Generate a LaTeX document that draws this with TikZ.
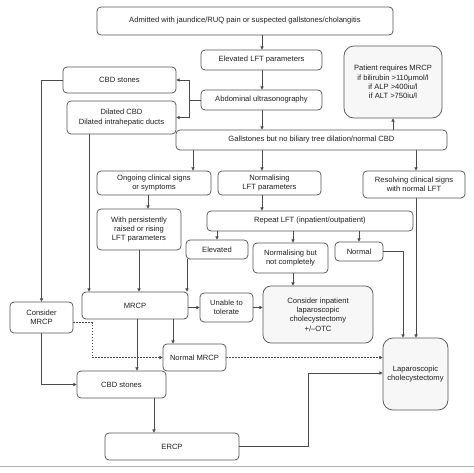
\documentclass[tikz,border=0pt]{standalone}
\usepackage{fontspec}
\setmainfont{Liberation Sans}
\usetikzlibrary{arrows.meta,calc}
\definecolor{lc}{HTML}{4A4A4A}
\definecolor{bc}{HTML}{555555}
\definecolor{fl}{HTML}{F7F7F7}
\begin{document}
\begin{tikzpicture}[x=1pt,y=-1pt,
  box/.style={draw=bc, line width=0.75pt, rounded corners=4pt, inner sep=1pt, align=center,
    font=\fontsize{7.6}{9.2}\selectfont, text=black!88},
  bigbox/.style={box, rounded corners=10pt, fill=fl},
  arr/.style={draw=lc, line width=0.75pt, -{Triangle[length=3.2pt,width=3.2pt]}},
  dotarr/.style={arr, dash pattern=on 1.5pt off 1.5pt}]
\useasboundingbox (0,0) rectangle (474,472);
% nodes
\node[box, minimum width=296pt, minimum height=28pt] (top) at (245,21) {Admitted with jaundice/RUQ pain or suspected gallstones/cholangitis};
\node[box, minimum width=121pt, minimum height=20pt] (elev) at (261.5,60) {Elevated LFT parameters};
\node[box, minimum width=121pt, minimum height=20pt] (abd) at (261.5,100) {Abdominal ultrasonography};
\node[box, minimum width=113pt, minimum height=26pt] (cbd1) at (119.5,80) {CBD stones};
\node[box, minimum width=109pt, minimum height=33pt] (dil) at (121.5,117.5) {Dilated CBD\\Dilated intrahepatic ducts};
\node[box, minimum width=271pt, minimum height=20pt] (gall) at (311.5,140) {Gallstones but no biliary tree dilation/normal CBD};
\node[bigbox, minimum width=98pt, minimum height=72pt] (pat) at (393,82) {Patient requires MRCP\\if bilirubin >110μmol/l\\if ALP >400iu/l\\if ALT >750iu/l};
\node[box, minimum width=114pt, minimum height=24pt] (ong) at (154,183) {Ongoing clinical signs\\or symptoms};
\node[box, minimum width=103pt, minimum height=24pt] (norm) at (269.5,183) {Normalising\\LFT parameters};
\node[box, minimum width=102pt, minimum height=27pt] (res) at (414,184.5) {Resolving clinical signs\\with normal LFT};
\node[box, minimum width=84pt, minimum height=41pt] (pers) at (139,229.5) {With persistently\\raised or rising\\LFT parameters};
\node[box, minimum width=206pt, minimum height=20pt] (rep) at (310,221) {Repeat LFT (inpatient/outpatient)};
\node[box, minimum width=62pt, minimum height=19pt] (elv2) at (217,249.5) {Elevated};
\node[box, minimum width=75pt, minimum height=30pt] (nbnc) at (290.5,258) {Normalising but\\not completely};
\node[box, minimum width=48pt, minimum height=19pt] (nrm) at (359,251.5) {Normal};
\node[box, rounded corners=8pt, fill=fl, minimum width=110pt, minimum height=57pt] (cons) at (318,314.5) {Consider inpatient\\laparoscopic\\cholecystectomy\\+/–OTC};
\node[bigbox, minimum width=65pt, minimum height=72pt] (lap) at (415.5,374) {Laparoscopic\\cholecystectomy};
\node[box, minimum width=106pt, minimum height=27pt] (mrcp) at (135,305.5) {MRCP};
\node[box, minimum width=53pt, minimum height=29pt] (unable) at (226.5,307.5) {Unable to\\tolerate};
\node[box, minimum width=63pt, minimum height=31pt] (conm) at (41.5,317.5) {Consider\\MRCP};
\node[box, minimum width=63pt, minimum height=27pt] (nmrcp) at (194.5,357.5) {Normal MRCP};
\node[box, minimum width=89pt, minimum height=27pt] (cbd2) at (121.5,384.5) {CBD stones};
\node[box, minimum width=134pt, minimum height=27pt] (ercp) at (172,446.5) {ERCP};
% helper x positions
\coordinate (x193) at (193,0);
\coordinate (x148) at (148,0);
\coordinate (x262) at (262,0);
\coordinate (x293) at (293,0);
\coordinate (x403) at (403,0);
\coordinate (x416) at (416,0);
\coordinate (x89) at (89,0);
\coordinate (x187) at (187,0);
\coordinate (x173) at (173,0);
\coordinate (x137) at (137,0);
\coordinate (x92) at (92,0);
\coordinate (x154) at (154,0);
\coordinate (x308) at (308,0);
\coordinate (x189) at (189,0);
% connectors
\draw[arr] (x262 |- top.south) -- (x262 |- elev.north);
\draw[arr] (x262 |- elev.south) -- (x262 |- abd.north);
\draw[arr] (x262 |- abd.south) -- (x262 |- gall.north);
\draw[lc, line width=0.75pt] (abd.west) -- (x189 |- abd.west);
\draw[arr] (x189 |- abd.west) |- (cbd1.east);
\draw[arr] (x189 |- abd.west) |- (dil.east);
\draw[arr] (pat.south |- gall.north) -- (pat.south);
\draw[arr] (x193 |- gall.south) -- (x193 |- ong.north);
\draw[arr] (x262 |- gall.south) -- (x262 |- norm.north);
\draw[arr] (x416 |- gall.south) -- (x416 |- res.north);
\draw[arr] (x148 |- ong.south) -- (x148 |- pers.north);
\draw[arr] (x262 |- norm.south) -- (x262 |- rep.north);
\draw[arr] (elv2.north |- rep.south) -- (elv2.north);
\draw[arr] (x293 |- rep.south) -- (x293 |- nbnc.north);
\draw[arr] (nrm.north |- rep.south) -- (nrm.north);
\draw[arr] (x293 |- nbnc.south) -- (x293 |- cons.north);
\draw[arr] (nrm.east) -| (x403 |- lap.north);
\draw[arr] (x416 |- res.south) -- (x416 |- lap.north);
\draw[arr] (cbd1.west) -| (conm.north);
\draw[arr] (x89 |- dil.south) -- (x89 |- mrcp.north);
\draw[arr] (pers.south) -- (pers.south |- mrcp.north);
\draw[arr] (x187 |- elv2.south) -- (x187 |- mrcp.north);
\draw[arr] (mrcp.east |- unable.west) -- (unable.west);
\draw[arr] (unable.east) -- (unable.east -| cons.west);
\draw[arr] (x173 |- mrcp.south) -- (x173 |- nmrcp.north);
\draw[arr] (x137 |- mrcp.south) -- (x137 |- cbd2.north);
\draw[arr] (conm.south) |- (cbd2.west);
\draw[dotarr] ([yshift=-5pt]conm.east) -| (x92 |- nmrcp.west) -- (nmrcp.west);
\draw[dotarr] (nmrcp.east) -- (nmrcp.east -| lap.west);
\draw[arr] (x154 |- cbd2.south) -- (x154 |- ercp.north);
\draw[arr] (ercp.east) -- (x308 |- ercp.east) -- ([yshift=1pt]x308 |- lap.west) -- ([yshift=1pt]lap.west);
% bottom rule
\draw[gray!60, line width=1pt] (0,466) -- (474,466);
\end{tikzpicture}
\end{document}
